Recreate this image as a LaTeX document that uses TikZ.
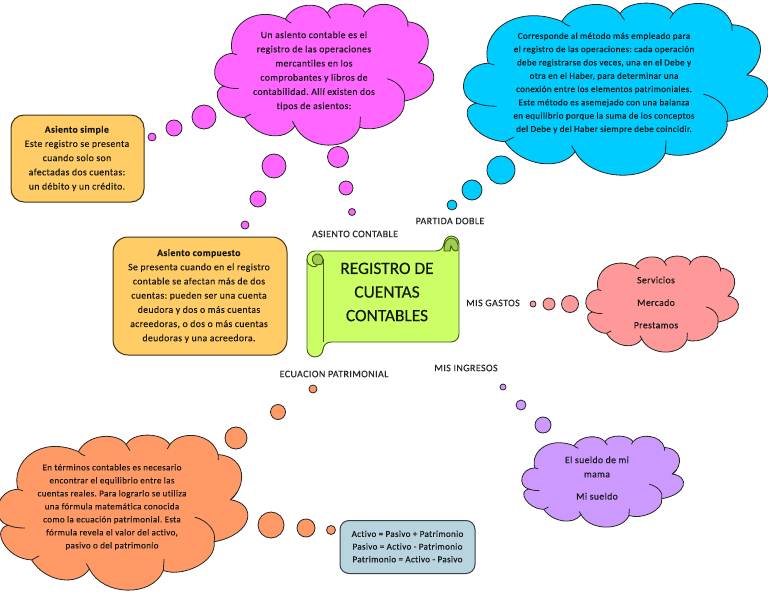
\documentclass[tikz,border=0pt]{standalone}
\usepackage{fontspec}
\setmainfont{Carlito}[LetterSpace=4,FakeBold=0.3,Ligatures=NoCommon]
\newfontfamily\titulofont{Carlito}[FakeBold=0.3]
\definecolor{rosa}{HTML}{FF66FF}
\definecolor{celeste}{HTML}{00CCFF}
\definecolor{naranja}{HTML}{FF9966}
\definecolor{salmon}{HTML}{FF9999}
\definecolor{lila}{HTML}{CC99FF}
\definecolor{dorado}{HTML}{FFCC66}
\definecolor{grisazul}{HTML}{B7D4DF}
\definecolor{lima}{HTML}{CCFF66}
\definecolor{limaosc}{HTML}{A3CC52}
\definecolor{verdeosc}{HTML}{3F5A14}
\newcommand{\letra}[2]{\frenchspacing\fontsize{#1}{#2}\selectfont}
% nube: x, y, ancho, alto, color
\newcommand{\nubeforma}[5]{
  \begin{scope}[shift={(#1,#2)},xscale=#3,yscale=#4]
    \draw[contorno,fill=#5] (0.08,0.35)
      .. controls (0.05,0.17) and (0.17,0.0) .. (0.323,0.107)
      .. controls (0.36,-0.01) and (0.48,-0.02) .. (0.515,0.062)
      .. controls (0.54,-0.02) and (0.66,-0.02) .. (0.69,0.062)
      .. controls (0.73,-0.03) and (0.86,-0.02) .. (0.884,0.126)
      .. controls (1.0,0.14) and (1.0,0.33) .. (0.934,0.418)
      .. controls (1.04,0.44) and (1.03,0.64) .. (0.868,0.689)
      .. controls (0.88,0.82) and (0.74,0.92) .. (0.664,0.874)
      .. controls (0.62,1.05) and (0.42,1.04) .. (0.367,0.864)
      .. controls (0.32,0.98) and (0.19,0.95) .. (0.135,0.806)
      .. controls (0.03,0.80) and (-0.03,0.60) .. (0.042,0.583)
      .. controls (-0.03,0.55) and (-0.01,0.355) .. (0.08,0.35) -- cycle;
    \draw[contorno] (0.79,0.53) .. controls (0.84,0.55) and (0.88,0.62) .. (0.868,0.689);
    \draw[contorno] (0.108,0.60) .. controls (0.08,0.60) and (0.06,0.595) .. (0.042,0.583);
    \draw[contorno] (0.934,0.418) .. controls (0.945,0.40) and (0.955,0.385) .. (0.96,0.37);
    \draw[contorno] (0.323,0.107) .. controls (0.33,0.12) and (0.34,0.13) .. (0.35,0.135);
    \draw[contorno] (0.515,0.062) -- (0.53,0.10);
    \draw[contorno] (0.69,0.062) -- (0.68,0.09);
    \draw[contorno] (0.884,0.126) -- (0.885,0.16);
    \draw[contorno] (0.664,0.874) -- (0.667,0.80);
    \draw[contorno] (0.367,0.864) -- (0.355,0.83);
    \draw[contorno] (0.135,0.806) -- (0.165,0.78);
    \draw[contorno] (0.08,0.35) -- (0.10,0.36);
  \end{scope}
}
\begin{document}
\begin{tikzpicture}[x=1pt,y=-1pt]
  \tikzstyle{contorno}=[draw=black!85,line width=0.8pt]
  \tikzstyle{burbuja}=[circle,contorno,inner sep=0pt]
  \tikzstyle{caja}=[rectangle,rounded corners=13pt,draw=black!75!dorado,line width=1pt,fill=dorado,inner sep=0pt]
  \tikzstyle{texto}=[align=center,inner sep=0pt,text=black!90,font=\letra{9.7}{14.2}]
  \tikzstyle{rama}=[inner sep=0pt,text=black!85,font=\letra{10}{11}]
  \useasboundingbox (0,0) rectangle (768,594);

  % nubes
  \nubeforma{215}{4}{218}{141}{rosa}
  \nubeforma{464}{3}{303}{172}{celeste}
  \nubeforma{-2}{435}{249}{155}{naranja}
  \nubeforma{586}{256}{152}{96}{salmon}
  \nubeforma{522}{436}{161}{91}{lila}

  \foreach \name/\x/\y/\d/\col in {r-1/152/137/8/rosa, r-2/174/128/16/rosa, r-3/204/117/24/rosa,
                                   r-4/274/166/24/rosa, r-5/258/199/16/rosa, r-6/245/225/8/rosa,
                                   r-7/338/157/21/rosa, r-8/346/188/14/rosa, r-9/352/212/7/rosa,
                                   c-1/452/205/10/celeste, c-2/472/190/20/celeste, c-3/501/170/28/celeste,
                                   s-1/533/304/6/salmon, s-2/549/304/12/salmon, s-3/570/304/17/salmon,
                                   l-1/503/387/6/lila, l-2/521/405/10/lila, l-3/543/425/16/lila,
                                   n-1/313/389/8/naranja, n-2/278/412/15/naranja, n-3/236/438/22/naranja,
                                   n-4/271/525/26/naranja, n-5/306/528/18/naranja, n-6/331/530/9/naranja}
    \node[burbuja,fill=\col,minimum size=\d pt] (\name) at (\x,\y) {};

  % pergamino
  \draw[draw=verdeosc,line width=0.9pt,fill=lima,rounded corners=8pt]
    (307,251) -- (444,251) -- (444,236) -- (459,236) -- (459,342) -- (323,342)
    -- (323,357) -- (307,357) -- cycle;
  \draw[draw=verdeosc,line width=0.9pt,fill=limaosc] (317,265)
    .. controls (312,265) and (310,256) .. (316,254)
    .. controls (321,253) and (323,258) .. (323,260) -- (322,264) -- cycle;
  \draw[draw=verdeosc,line width=0.9pt] (323,259) -- (323,342);
  \draw[draw=verdeosc,line width=0.9pt] (307,259) .. controls (307,268) and (318,268) .. (317,265);
  \draw[draw=verdeosc,line width=0.9pt,fill=limaosc] (444,251)
    .. controls (444,240) and (448,239) .. (451,238)
    .. controls (456,238) and (459,243) .. (458,250)
    .. controls (455,252) and (453,251) .. (451,246) -- (450,251) -- cycle;
  \node[inner sep=0pt,align=center,text=black!90!lima,font=\titulofont\letra{17.4}{23.6}] (titulo) at (387,292)
    {REGISTRO DE\\CUENTAS\\CONTABLES};

  % cajas
  \node[caja,minimum width=133pt,minimum height=87pt] (simple) at (77.5,158.5) {};
  \node[texto] (simple-txt) at (77,158.5)
    {\textbf{Asiento simple}\\Este registro se presenta\\cuando solo son\\afectadas dos cuentas:\\un débito y un crédito.};
  \node[caja,minimum width=174pt,minimum height=118pt,rounded corners=15pt] (compuesto) at (200,296) {};
  \node[texto] (compuesto-txt) at (199,296)
    {\textbf{Asiento compuesto}\\Se presenta cuando en el registro\\contable se afectan más de dos\\cuentas: pueden ser una cuenta\\deudora y dos o más cuentas\\acreedoras, o dos o más cuentas\\deudoras y una acreedora.};
  \node[caja,fill=grisazul,draw=black!70!grisazul,rounded corners=9pt,minimum width=135pt,minimum height=53pt] (formula) at (407.5,547) {};
  \node[texto,font=\letra{9}{12.7}] (formula-txt) at (407.5,546.5)
    {Activo = Pasivo + Patrimonio\\Pasivo = Activo - Patrimonio\\Patrimonio = Activo - Pasivo};

  % textos de las nubes
  \node[texto] (rosa-txt) at (314,71)
    {Un asiento contable es el\\registro de las operaciones\\mercantiles en los\\comprobantes y libros de\\contabilidad. Allí existen dos\\tipos de asientos:};
  \node[texto,font=\letra{9}{13.3}] (celeste-txt) at (604,83)
    {Corresponde al método más empleado para\\el registro de las operaciones: cada operación\\debe registrarse dos veces, una en el Debe y\\otra en el Haber, para determinar una\\conexión entre los elementos patrimoniales.\\Este método es asemejado con una balanza\\en equilibrio porque la suma de los conceptos\\del Debe y del Haber siempre debe coincidir.};
  \node[texto,font=\letra{9}{13}] (naranja-txt) at (112,507)
    {En términos contables es necesario\\encontrar el equilibrio entre las\\cuentas reales. Para lograrlo se utiliza\\una fórmula matemática conocida\\como la ecuación patrimonial. Esta\\fórmula revela el valor del activo,\\pasivo o del patrimonio};
  \node[texto,font=\letra{9.7}{22.5}] (salmon-txt) at (656,302.5)
    {Servicios\\Mercado\\Prestamos};
  \node[texto] (lila-txt) at (597,478)
    {El sueldo de mi\\mama\\[8pt]Mi sueldo};

  % ramas
  \foreach \name/\x/\y/\text in {asiento/355/234/ASIENTO CONTABLE, partida/450/221/PARTIDA DOBLE,
                                 gastos/493/303/MIS GASTOS, ingresos/466/368/MIS INGRESOS,
                                 ecuacion/334/374/ECUACION PATRIMONIAL}
    \node[rama] (\name) at (\x,\y) {\text};
\end{tikzpicture}
\end{document}
